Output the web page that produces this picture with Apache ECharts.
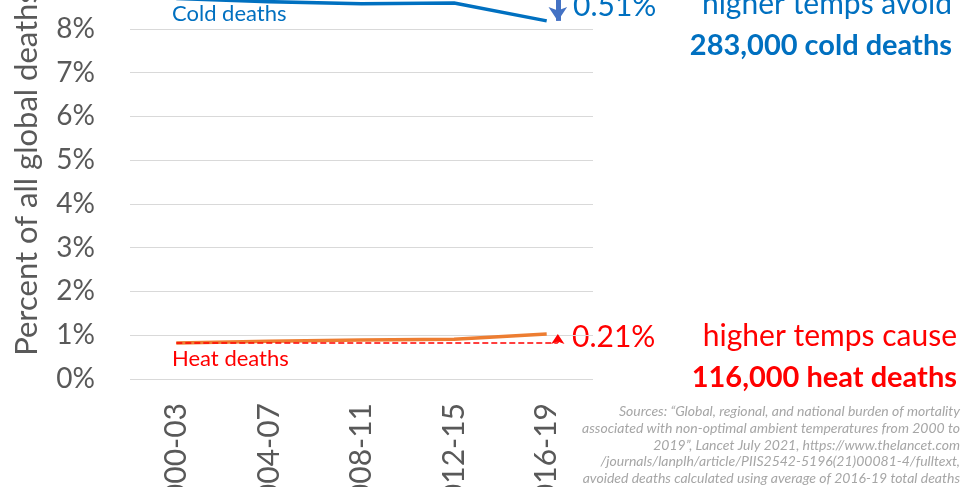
<!DOCTYPE html>
<html>
<head>
<meta charset="utf-8">
<script src="https://cdn.jsdelivr.net/npm/echarts@6/dist/echarts.min.js"></script>
<style>
  html, body { margin: 0; padding: 0; background: #fff; }
  #chart { width: 975px; height: 487px; }
</style>
</head>
<body>
<div id="chart"></div>
<script>
// data
const periods = ['2000-03', '2004-07', '2008-11', '2012-15', '2016-19']
const coldDeaths = [8.69, 8.62, 8.57, 8.59, 8.18]
const heatDeaths = [0.82, 0.86, 0.89, 0.91, 1.03]
const yMin = 0
const yMax = 9
const yStep = 1
const coldChange = '0.51%'
const heatChange = '0.21%'
const sourceLines = [
  'Sources: \u201cGlobal, regional, and national burden of mortality',
  'associated with non-optimal ambient temperatures from 2000 to',
  '2019\u201d, Lancet July 2021, https://www.thelancet.com',
  '/journals/lanplh/article/PIIS2542-5196(21)00081-4/fulltext,',
  'avoided deaths calculated using average of 2016-19 total deaths'
]

const FONT = 'Lato'
const BLUE = '#0070C0'
const RED = '#FF0000'
const last = periods.length - 1
// x position (in category units) of the change arrows
const arrowX = last + 0.12

const chart = echarts.init(document.getElementById('chart'))

const option = {
  backgroundColor: '#fff',
  animation: false,
  textStyle: { fontFamily: FONT },
  grid: { left: 130, right: 382, top: -15, bottom: 108, outerBoundsMode: 'none', containLabel: false },
  xAxis: [
    {
      type: 'category',
      data: periods,
      boundaryGap: true,
      axisLine: { show: false },
      axisTick: { show: false },
      axisLabel: {
        rotate: 90,
        margin: 24,
        fontSize: 30,
        color: '#595959',
        fontFamily: FONT
      }
    },
    {
      // hidden helper axis aligned with category centres
      type: 'value',
      min: -0.5,
      max: periods.length - 0.5,
      show: false
    }
  ],
  yAxis: {
    type: 'value',
    min: yMin,
    max: yMax,
    interval: yStep,
    name: 'Percent of all global deaths',
    nameLocation: 'middle',
    nameGap: 88,
    nameTextStyle: { fontSize: 31, color: '#595959', fontFamily: FONT, padding: [0, 0, 0, 18] },
    axisLine: { show: false },
    axisTick: { show: false },
    axisLabel: {
      formatter: '{value}%',
      fontSize: 28,
      margin: 35,
      color: '#595959',
      fontFamily: FONT
    },
    splitLine: { lineStyle: { color: '#D9D9D9', width: 1 } }
  },
  series: [
    {
      name: 'Cold deaths',
      type: 'line',
      data: coldDeaths,
      symbol: 'none',
      lineStyle: { color: BLUE, width: 3.5 }
    },
    {
      name: 'Heat deaths',
      type: 'line',
      data: heatDeaths,
      symbol: 'none',
      z: 3,
      lineStyle: { color: '#ED7D31', width: 3.5 }
    },
    {
      // baseline + change arrows
      type: 'line',
      xAxisIndex: 1,
      data: [],
      markLine: {
        silent: true,
        label: { show: false },
        animation: false,
        data: [
          [
            { coord: [0, heatDeaths[0]], symbol: 'none' },
            { coord: [arrowX, heatDeaths[0]], symbol: 'none' }
          ],
          [
            { coord: [arrowX, heatDeaths[0]], symbol: 'none' },
            { coord: [arrowX, heatDeaths[last]], symbol: 'arrow', symbolSize: 10 }
          ]
        ],
        lineStyle: { color: RED, type: 'dashed', width: 1.5 }
      }
    },
    {
      type: 'line',
      xAxisIndex: 1,
      data: [],
      markLine: {
        silent: true,
        label: { show: false },
        animation: false,
        symbol: ['none', 'arrow'],
        symbolSize: 14,
        data: [
          [
            { coord: [arrowX, coldDeaths[0]] },
            { coord: [arrowX, coldDeaths[last]] }
          ]
        ],
        lineStyle: { color: '#4472C4', type: 'solid', width: 5 }
      }
    }
  ],
  graphic: [
    { type: 'text', left: 172, top: 3, style: { text: 'Cold deaths', font: '22px ' + FONT, fill: BLUE } },
    { type: 'text', left: 172, top: 348, style: { text: 'Heat deaths', font: '22px ' + FONT, fill: RED } },
    { type: 'text', x: 573, y: 6, style: { text: coldChange, font: '30px ' + FONT, fill: BLUE, verticalAlign: 'middle' } },
    { type: 'text', x: 572, y: 337, style: { text: heatChange, font: '30px ' + FONT, fill: RED, verticalAlign: 'middle' } },
    { type: 'text', x: 952, y: 4, style: { text: 'higher temps avoid', font: '30px ' + FONT, fill: BLUE, align: 'right', verticalAlign: 'middle' } },
    { type: 'text', x: 952, y: 46, style: { text: '283,000 cold deaths', font: 'bold 29px ' + FONT, fill: BLUE, align: 'right', verticalAlign: 'middle' } },
    { type: 'text', x: 957, y: 336, style: { text: 'higher temps cause', font: '30px ' + FONT, fill: RED, align: 'right', verticalAlign: 'middle' } },
    { type: 'text', x: 957, y: 378, style: { text: '116,000 heat deaths', font: 'bold 29px ' + FONT, fill: RED, align: 'right', verticalAlign: 'middle' } },
    {
      type: 'text',
      x: 960,
      y: 403,
      style: {
        text: sourceLines.join('\n'),
        font: 'italic 14px ' + FONT,
        fill: '#A6A6A6',
        align: 'right',
        verticalAlign: 'top',
        lineHeight: 16.8
      }
    }
  ]
}

chart.setOption(option)
</script>
</body>
</html>
